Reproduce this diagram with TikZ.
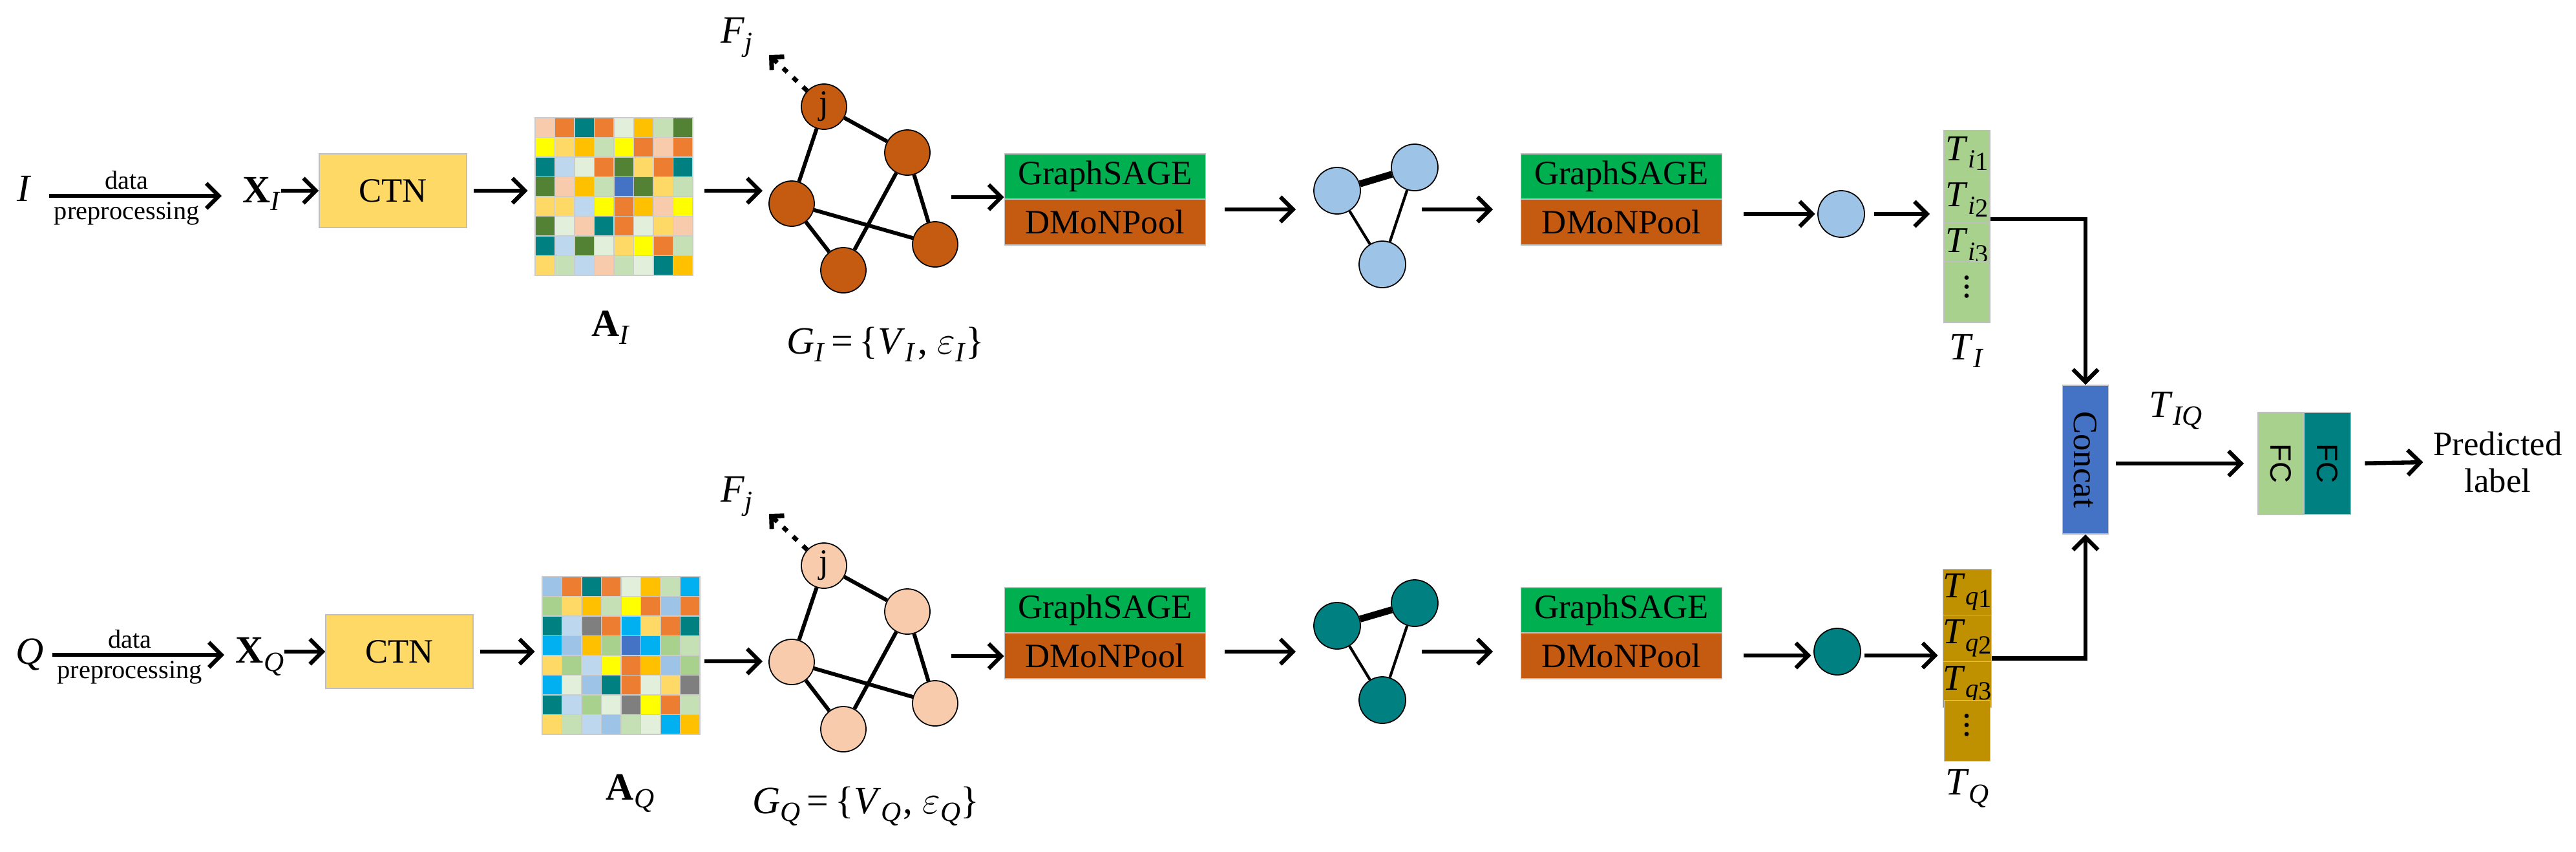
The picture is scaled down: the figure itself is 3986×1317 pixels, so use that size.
\documentclass[tikz,border=0pt]{standalone}
\usepackage{fontspec}
\setmainfont{Liberation Serif}
\newfontfamily\sansf{Liberation Sans}
\usetikzlibrary{arrows.meta,calc}
\definecolor{cP}{HTML}{F8CBAD}\definecolor{cO}{HTML}{ED7D31}\definecolor{cT}{HTML}{008080}
\definecolor{cL}{HTML}{E2EFDA}\definecolor{cY}{HTML}{FFC000}\definecolor{cG}{HTML}{C5E0B4}
\definecolor{cD}{HTML}{548235}\definecolor{cy}{HTML}{FFFF00}\definecolor{cl}{HTML}{FFD966}
\definecolor{cB}{HTML}{BDD7EE}\definecolor{cK}{HTML}{4472C4}\definecolor{cS}{HTML}{9DC3E6}
\definecolor{cA}{HTML}{A9D18E}\definecolor{cC}{HTML}{00B0F0}\definecolor{cR}{HTML}{7F7F7F}
\definecolor{rust}{HTML}{C55A11}\definecolor{sage}{HTML}{00B050}\definecolor{goldb}{HTML}{BF9000}
\newcommand\sbx[1]{\raisebox{-0.45ex}{\scalebox{0.72}{\textit{#1}}}}
\newcommand\sbn[1]{\raisebox{-0.6ex}{\scalebox{0.72}{#1}}}
\begin{document}
\begin{tikzpicture}[x=0.01cm,y=-0.01cm,
  arr/.style={line width=1.8pt,-{Straight Barb[length=5.5pt,width=11pt,line width=1.8pt]}},
  edge/.style={line width=1.7pt},
  box/.style={draw=black!25,line width=0.4pt,inner sep=0pt},
  ctn/.style={box,fill=cl,minimum width=2.28cm,minimum height=1.14cm,font=\fontsize{15}{17}\selectfont},
  gs/.style={box,fill=sage,minimum width=3.11cm,minimum height=0.70cm,font=\fontsize{15}{17}\selectfont},
  dm/.style={box,fill=rust,minimum width=3.11cm,minimum height=0.71cm,font=\fontsize{15}{17}\selectfont},
  gn/.style={circle,draw=black,line width=0.5pt,minimum size=0.70cm,inner sep=0pt,font=\fontsize{15}{17}\selectfont},
  sn/.style={circle,draw=black,line width=0.5pt,minimum size=0.72cm,inner sep=0pt},
  tc/.style={box,minimum width=0.71cm,minimum height=0.715cm,font=\fontsize{16}{18}\selectfont},
  lab/.style={font=\fontsize{17}{19}\selectfont,inner sep=0pt},
  small/.style={font=\fontsize{11.5}{13}\selectfont,inner sep=2pt},
  mat/.style={minimum size=2.44cm,inner sep=0pt},
  fj/.style={line width=2pt,dash pattern=on 2.5pt off 3.5pt,-{Straight Barb[length=4pt,width=8pt,line width=2pt]}}
]
\useasboundingbox (0,0) rectangle (3986,1317);
% ================= TOP ROW =================
\node[lab] (I) at (38,292) {\textit{I}};
\node[lab] (XI) at (405,300) {\textbf{X}\sbx{I}};
\coordinate (Is) at (76,303); \coordinate (Ie) at (343,303);
\draw[arr] (Is) -- (Ie) node[pos=0.45,above,small]{data} node[pos=0.45,below,small]{preprocessing};
\node[ctn] (ctnI) at (608,295) {CTN};
\draw[arr] (XI.east |- ctnI) -- (ctnI.west);
\node[mat] (mI) at (950,304) {};
\foreach \r [count=\k from 0] in {{P,O,T,O,L,Y,G,D},{y,l,Y,G,y,O,P,O},{T,B,L,O,D,l,O,T},{D,P,Y,G,K,D,l,G},{l,l,B,y,O,Y,P,y},{D,L,P,T,O,L,l,P},{T,B,D,L,l,y,O,G},{l,G,B,P,G,L,T,Y}}
  {\foreach \c [count=\i from 0] in \r {\fill[c\c,draw=black!20,line width=0.3pt] (828+30.5*\i,182+30.5*\k) rectangle ++(30.5,30.5);}}
\draw[arr,shorten <=3pt,shorten >=3pt] (ctnI.east) -- (ctnI.east -| mI.west);
\node[lab] (AI) at (945,507) {\textbf{A}\sbx{I}};
% graph I
\node[gn,fill=rust] (jI) at (1275,165) {j};
\node[gn,fill=rust] (aI) at (1404,236) {};
\node[gn,fill=rust] (bI) at (1225,315) {};
\node[gn,fill=rust] (cI) at (1447,378) {};
\node[gn,fill=rust] (dI) at (1305,418) {};
\draw[edge] (jI)--(aI) (jI)--(bI) (aI)--(dI) (aI)--(cI) (bI)--(cI) (bI)--(dI);
\coordinate (mIo) at (1090,295); \coordinate (mIe) at (1180,295);
\draw[arr] (mIo) -- (mIe);
\coordinate (FjI) at (1190,85);
\draw[fj] (jI) -- (FjI);
\node[lab] at (1140,58) {\textit{F}\sbx{j}};
\node[lab] at (1370,533) {\textit{G}\sbx{I}\,=\,\{\textit{V}\sbx{I}\kern1pt, $\varepsilon$\sbx{I}\}};
% blocks I
\node[gs] (gs1) at (1710,273) {GraphSAGE};
\node[dm] (dm1) at (1710,343.5) {DMoNPool};
\coordinate (gIo) at (1472,305);
\draw[arr] (gIo) -- (gIo -| gs1.west);
\node[sn,fill=cS] (s1) at (2069,295) {};
\node[sn,fill=cS] (s2) at (2189,259) {};
\node[sn,fill=cS] (s3) at (2139,409) {};
\draw[line width=3pt] (s1)--(s2);
\draw[line width=1.2pt] (s2)--(s3) (s1)--(s3);
\coordinate (b1o) at (1895,324); \coordinate (b1e) at (2005,324);
\draw[arr] (b1o) -- (b1e);
\node[gs] (gs2) at (2509,273) {GraphSAGE};
\node[dm] (dm2) at (2509,343.5) {DMoNPool};
\coordinate (s2o) at (2200,324); \coordinate (s2e) at (2310,324);
\draw[arr] (s2o) -- (s2e);
\node[sn,fill=cS] (pI) at (2849,331) {};
\coordinate (b2o) at (2698,331);
\draw[arr,shorten >=1pt] (b2o) -- (pI.west);
\node[tc,fill=cA] (Ti1) at (3043.5,237.5) {\textit{T}\sbx{i}\sbn{1}};
\node[tc,fill=cA] (Ti2) at (3043.5,309) {\textit{T}\sbx{i}\sbn{2}};
\node[tc,fill=cA] (Ti3) at (3043.5,380.5) {\textit{T}\sbx{i}\sbn{3}};
\node[tc,fill=cA] (Ti4) at (3043.5,452) {\raisebox{1.5ex}{$\vdots$}};
\draw[arr,shorten <=4pt,shorten >=6pt] (pI.east) -- (pI.east -| Ti2.west);
\node[lab] at (3043,543) {\textit{T}\sbx{I}};
% ================= BOTTOM ROW =================
\node[lab] (Q) at (46,1013) {\textit{Q}};
\node[lab] (XQ) at (402,1016) {\textbf{X}\sbx{Q}};
\coordinate (Qs) at (81,1013); \coordinate (Qe) at (347,1013);
\draw[arr] (Qs) -- (Qe) node[pos=0.45,above,small]{data} node[pos=0.45,below,small]{preprocessing};
\node[ctn] (ctnQ) at (618,1008) {CTN};
\draw[arr] (XQ.east |- ctnQ) -- (ctnQ.west);
\node[mat] (mQ) at (961,1014) {};
\foreach \r [count=\k from 0] in {{S,O,T,O,L,Y,G,C},{A,l,Y,G,y,O,S,O},{T,B,R,O,C,l,O,T},{C,S,Y,A,K,C,A,G},{l,A,B,y,O,Y,S,A},{C,L,S,T,O,L,l,R},{T,B,A,L,R,y,O,G},{l,G,B,S,G,L,C,Y}}
  {\foreach \c [count=\i from 0] in \r {\fill[c\c,draw=black!20,line width=0.3pt] (839+30.5*\i,892+30.5*\k) rectangle ++(30.5,30.5);}}
\draw[arr,shorten <=3pt,shorten >=3pt] (ctnQ.east) -- (ctnQ.east -| mQ.west);
\node[lab] (AQ) at (975,1227) {\textbf{A}\sbx{Q}};
\node[gn,fill=cP] (jQ) at (1275,875) {j};
\node[gn,fill=cP] (aQ) at (1404,946) {};
\node[gn,fill=cP] (bQ) at (1225,1024) {};
\node[gn,fill=cP] (cQ) at (1447,1088) {};
\node[gn,fill=cP] (dQ) at (1305,1128) {};
\draw[edge] (jQ)--(aQ) (jQ)--(bQ) (aQ)--(dQ) (aQ)--(cQ) (bQ)--(cQ) (bQ)--(dQ);
\coordinate (mQo) at (1090,1023); \coordinate (mQe) at (1180,1023);
\draw[arr] (mQo) -- (mQe);
\coordinate (FjQ) at (1190,795);
\draw[fj] (jQ) -- (FjQ);
\node[lab] at (1140,768) {\textit{F}\sbx{j}};
\node[lab] at (1340,1247) {\textit{G}\sbx{Q}\,=\,\{\textit{V}\sbx{Q}\kern1pt, $\varepsilon$\sbx{Q}\}};
\node[gs] (gs3) at (1710,944) {GraphSAGE};
\node[dm] (dm3) at (1710,1014.5) {DMoNPool};
\coordinate (gQo) at (1472,1015);
\draw[arr] (gQo) -- (gQo -| gs3.west);
\node[sn,fill=cT] (t1) at (2069,968) {};
\node[sn,fill=cT] (t2) at (2189,933) {};
\node[sn,fill=cT] (t3) at (2139,1083) {};
\draw[line width=3pt] (t1)--(t2);
\draw[line width=1.2pt] (t2)--(t3) (t1)--(t3);
\coordinate (b3o) at (1895,1008); \coordinate (b3e) at (2005,1008);
\draw[arr] (b3o) -- (b3e);
\node[gs] (gs4) at (2509,944) {GraphSAGE};
\node[dm] (dm4) at (2509,1014.5) {DMoNPool};
\coordinate (t2o) at (2200,1008); \coordinate (t2e) at (2310,1008);
\draw[arr] (t2o) -- (t2e);
\node[sn,fill=cT] (pQ) at (2843,1008) {};
\coordinate (b4o) at (2698,1014);
\draw[arr,shorten >=1pt] (b4o) -- (b4o -| pQ.west);
\node[tc,fill=goldb] (Tq1) at (3044,916) {\textit{T}\sbx{q}\sbn{1}};
\node[tc,fill=goldb] (Tq2) at (3044,987.5) {\textit{T}\sbx{q}\sbn{2}};
\node[tc,fill=goldb] (Tq3) at (3044,1059) {\textit{T}\sbx{q}\sbn{3}};
\node[tc,fill=goldb] (Tq4) at (3044,1130.5) {\raisebox{1.5ex}{$\vdots$}};
\coordinate (pQo) at (2885,1014);
\draw[arr,shorten >=2pt] (pQo) -- (pQo -| Tq2.west);
\node[lab] at (3044,1220) {\textit{T}\sbx{Q}};
% ================= MERGE =================
\node[box,fill=cK,minimum width=0.71cm,minimum height=2.30cm] (cat) at (3227,711) {};
\node[rotate=-90,font=\fontsize{15}{17}\selectfont] at (cat) {Concat};
\draw[arr] ([yshift=-8.5pt]Ti2.east) -| (cat.north);
\draw[arr] ([yshift=-8.8pt]Tq2.east) -| (cat.south);
\node[box,fill=cA,minimum width=0.71cm,minimum height=1.58cm] (fc1) at (3529.5,717) {};
\node[box,fill=cT,minimum width=0.72cm,minimum height=1.58cm] (fc2) at (3601.5,717) {};
\node[rotate=-90,font=\sansf\fontsize{13}{15}\selectfont] at (fc1) {FC};
\node[rotate=-90,font=\sansf\fontsize{13}{15}\selectfont] at (fc2) {FC};
\draw[arr,shorten <=3pt,shorten >=6pt] (cat.east |- fc1) -- (fc1.west) node[pos=0.45,above=14pt,lab]{\textit{T}\sbx{IQ}};
\node[align=center,font=\fontsize{15}{16}\selectfont] (pred) at (3865,715) {Predicted\\label};
\draw[arr,shorten <=6pt,shorten >=1pt] (fc2.east) -- (pred.west);
\end{tikzpicture}
\end{document}
